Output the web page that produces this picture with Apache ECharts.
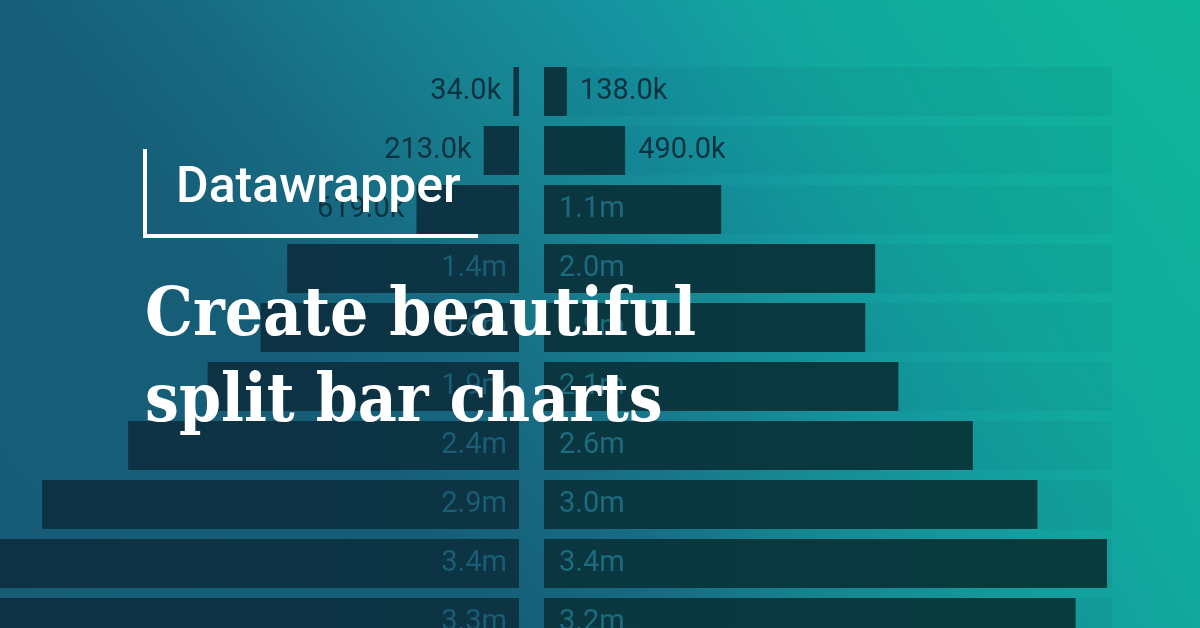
<!DOCTYPE html>
<html>
<head>
<meta charset="utf-8">
<script src="https://cdn.jsdelivr.net/npm/echarts@6/dist/echarts.min.js"></script>
<style>
  html, body { margin: 0; padding: 0; width: 1200px; height: 628px; overflow: hidden; }
  body {
    background:
      linear-gradient(90deg, rgba(15,178,155,0) 55%, rgba(15,178,155,0.5) 100%),
      linear-gradient(51.3deg,
      #165c76 0%, #165e78 30%, #176a82 40%, #17808f 52%,
      #1594a0 65%, #12a49f 74%, #10ad9c 86%, #0fba97 100%);
  }
  #chart { width: 1200px; height: 628px; }
</style>
</head>
<body>
<div id="chart"></div>
<script>
// ---- data (values in thousands) ----
const categories = ['Group 1', 'Group 2', 'Group 3', 'Group 4', 'Group 5',
                    'Group 6', 'Group 7', 'Group 8', 'Group 9', 'Group 10'];
const leftValues  = [34, 213, 619, 1400, 1560, 1880, 2360, 2880, 3400, 3300];
const rightValues = [138, 490, 1070, 2000, 1940, 2140, 2590, 2980, 3400, 3210];
const axisMax = 3430;
const insideThreshold = 1000;

// ---- styling ----
const labelFont = 'Roboto';
const labelSize = 29;
const outsideLabelColor = '#0c3240';
const insideLabelColorLeft = '#1a5d74';
const insideLabelColorRight = '#1c6c80';

function fmt(v) {
  return v >= 1000 ? (v / 1000).toFixed(1) + 'm' : v.toFixed(1) + 'k';
}

const barColor = new echarts.graphic.LinearGradient(0, 0, 1200, 0, [
  { offset: 0, color: '#0d3245' },
  { offset: 0.43, color: '#0c3443' },
  { offset: 0.46, color: '#0a3640' },
  { offset: 1, color: '#073c3d' }
], true);

function buildData(values, side) {
  return values.map(function (v) {
    const inside = v >= insideThreshold;
    let label;
    if (side === 'left') {
      label = inside
        ? { position: 'insideRight', distance: 12, color: insideLabelColorLeft }
        : { position: 'left', distance: 12, color: outsideLabelColor };
    } else {
      label = inside
        ? { position: 'insideLeft', distance: 15, color: insideLabelColorRight }
        : { position: 'right', distance: 13, color: outsideLabelColor };
    }
    return { value: v, label: label };
  });
}

const chart = echarts.init(document.getElementById('chart'), null, { renderer: 'canvas' });

const option = {
  backgroundColor: 'transparent',
  animation: false,
  grid: [
    { left: -49, top: 62, width: 568, height: 590, outerBoundsMode: 'none', containLabel: false },
    { left: 544, top: 62, width: 568, height: 590, outerBoundsMode: 'none', containLabel: false }
  ],
  xAxis: [
    { type: 'value', gridIndex: 0, inverse: true, min: 0, max: axisMax, show: false },
    { type: 'value', gridIndex: 1, min: 0, max: axisMax, show: false }
  ],
  yAxis: [
    { type: 'category', gridIndex: 0, inverse: true, data: categories, show: false },
    { type: 'category', gridIndex: 1, inverse: true, data: categories, show: false }
  ],
  series: [
    {
      type: 'bar', xAxisIndex: 0, yAxisIndex: 0,
      barCategoryGap: '17%',
      data: buildData(leftValues, 'left'),
      itemStyle: { color: barColor },
      label: { show: true, formatter: function (p) { return fmt(p.value); },
               fontFamily: labelFont, fontSize: labelSize },
      z: 2
    },
    {
      type: 'bar', xAxisIndex: 1, yAxisIndex: 1,
      barCategoryGap: '17%',
      data: buildData(rightValues, 'right'),
      showBackground: true,
      backgroundStyle: { color: 'rgba(0, 40, 50, 0.05)' },
      itemStyle: { color: barColor },
      label: { show: true, formatter: function (p) { return fmt(p.value); },
               fontFamily: labelFont, fontSize: labelSize },
      z: 2
    }
  ],
  graphic: [
    { type: 'rect', z: 100, shape: { x: 143, y: 149, width: 4, height: 89 }, style: { fill: '#ffffff' } },
    { type: 'rect', z: 100, shape: { x: 143, y: 234, width: 335, height: 4 }, style: { fill: '#ffffff' } },
    { type: 'text', z: 100, x: 176, y: 189,
      style: { text: 'Datawrapper', fill: '#ffffff', font: '500 50px Roboto',
               align: 'left', verticalAlign: 'middle' } },
    { type: 'text', z: 100, x: 145, y: 318,
      style: { text: 'Create beautiful', fill: '#ffffff',
               font: 'bold 67px "DejaVu Serif Condensed", "DejaVu Serif"',
               align: 'left', verticalAlign: 'middle' } },
    { type: 'text', z: 100, x: 145, y: 404,
      style: { text: 'split bar charts', fill: '#ffffff',
               font: 'bold 67px "DejaVu Serif Condensed", "DejaVu Serif"',
               align: 'left', verticalAlign: 'middle' } }
  ]
};

chart.setOption(option);
</script>
</body>
</html>
